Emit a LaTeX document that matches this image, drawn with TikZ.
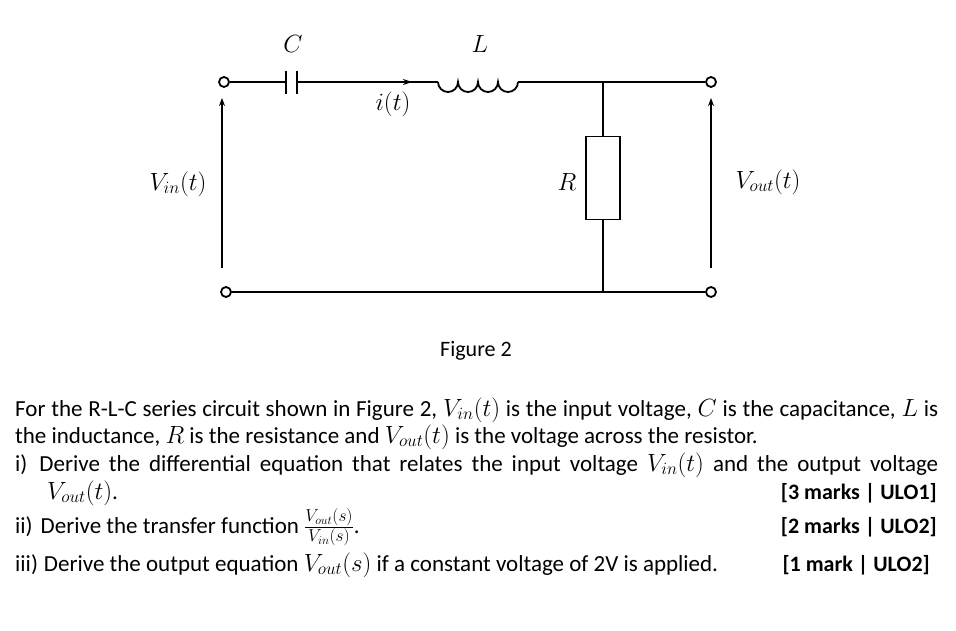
\documentclass[tikz,border=0pt]{standalone}
\usepackage{fontspec}
\setmainfont{Carlito}
\usetikzlibrary{arrows.meta}
\begin{document}
\begin{tikzpicture}[x=1pt,y=-1pt,
  wire/.style={line width=1.8pt},
  term/.style={circle,draw,line width=1.8pt,minimum size=10pt,inner sep=0pt,fill=white},
  varrow/.style={line width=1.3pt,-{Stealth[length=8pt,width=6pt]}},
  lbl/.style={font=\fontsize{25}{28}\selectfont},
  txt/.style={font=\fontsize{23}{26}\selectfont,anchor=base west,inner sep=0pt},
  mk/.style={font=\fontsize{22}{26}\selectfont\bfseries,anchor=base east,inner sep=0pt}]
\useasboundingbox (0,0) rectangle (956,631);
% nodes
\node[term] (a) at (224,82) {};
\node[term] (b) at (711,82) {};
\node[term] (c) at (226,292) {};
\node[term] (d) at (711,292) {};
\coordinate (c1) at (286,82);
\coordinate (c2) at (297,82);
\coordinate (l1) at (438,82);
\coordinate (l2) at (518,82);
\coordinate (rt) at (603,82);
\coordinate (rb) at (603,292);
\node[draw,line width=1.8pt,minimum width=34pt,minimum height=83pt,inner sep=0pt] (res) at (603,178) {};
% wires
\draw[wire] (a) -- (c1);
\draw[wire] (286,71) -- (286,94);
\draw[wire] (297,71) -- (297,94);
\draw[wire] (c2) -- (l1);
\draw[line width=1.3pt,-{Stealth[length=9pt,width=6pt]}] (380,82) -- (412,82);
\draw[wire] (l1) arc[start angle=180,end angle=0,radius=10]
  arc[start angle=180,end angle=0,radius=10]
  arc[start angle=180,end angle=0,radius=10]
  arc[start angle=180,end angle=0,radius=10];
\draw[wire] (l2) -- (b);
\draw[wire] (rt) -- (res.north);
\draw[wire] (res.south) -- (rb);
\draw[wire] (c) -- (d);
\draw[varrow] (222,268) -- (222,98);
\draw[varrow] (711,268) -- (711,98);
% labels
\node[lbl] (lc) at (293,44) {$C$};
\node[lbl] (ll) at (480,44) {$L$};
\node[lbl] (li) at (393,104) {$i(t)$};
\node[lbl] (lvin) at (178,184) {$V_{in}(t)$};
\node[lbl] (lr) at (567,182) {$R$};
\node[lbl] (lvout) at (768,182) {$V_{out}(t)$};
\node[font=\fontsize{22}{26}\selectfont] (fig) at (476,351) {Figure 2};
% text
\node[txt] (t1) at (15,416) {\hbox to 923pt{For the R-L-C series circuit shown in Figure 2, $V_{in}(t)$ is the input voltage, $C$ is the capacitance, $L$ is}};
\node[txt] (t2) at (15,443) {the inductance, $R$ is the resistance and $V_{out}(t)$ is the voltage across the resistor.};
\node[txt] (t3) at (15,471) {\hbox to 923pt{i)\hskip 12pt Derive the differential equation that relates the input voltage $V_{in}(t)$ and the output voltage}};
\node[txt] (t4) at (47,499) {$V_{out}(t)$.};
\node[mk] (m1) at (937,499) {[3 marks | ULO1]};
\node[txt] (t5) at (15,533) {ii)\hskip 8pt Derive the transfer function $\frac{V_{out}(s)}{V_{in}(s)}$.};
\node[mk] (m2) at (937,533) {[2 marks | ULO2]};
\node[txt] (t6) at (15,571) {iii)\hskip 6pt Derive the output equation $V_{out}(s)$ if a constant voltage of 2V is applied.};
\node[mk] (m3) at (930,571) {[1 mark | ULO2]};
\end{tikzpicture}
\end{document}
